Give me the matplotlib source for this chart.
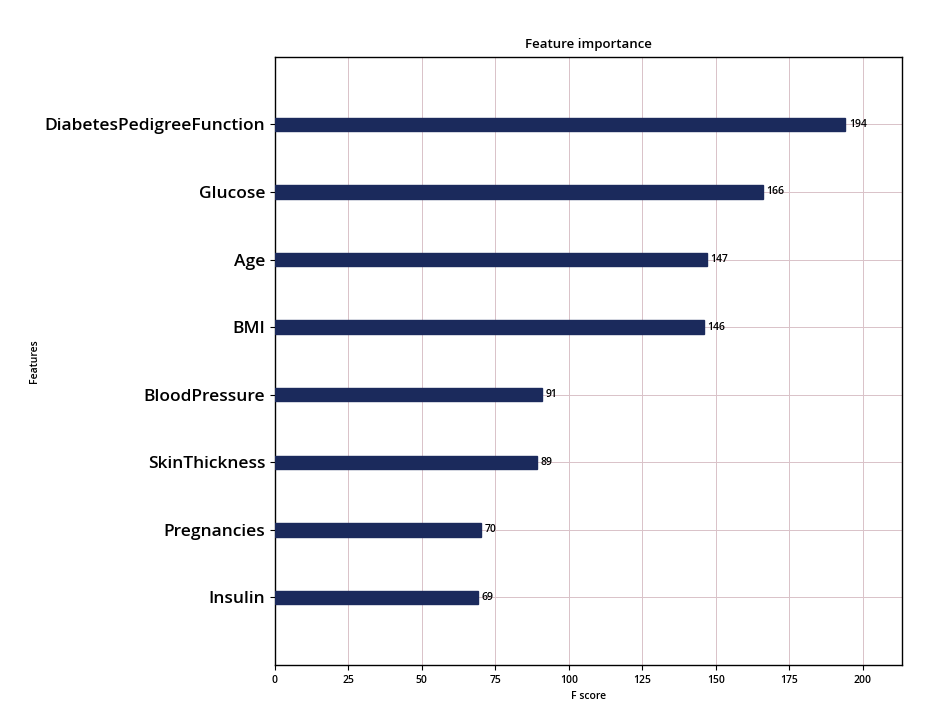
import matplotlib
matplotlib.use("Agg")
import matplotlib.pyplot as plt

features = ["Insulin", "Pregnancies", "SkinThickness", "BloodPressure",
            "BMI", "Age", "Glucose", "DiabetesPedigreeFunction"]
scores = [69, 70, 89, 91, 146, 147, 166, 194]
xticks = [0, 25, 50, 75, 100, 125, 150, 175, 200]

plt.rcParams['font.family'] = ['Open Sans', 'DejaVu Sans']
plt.rcParams['font.weight'] = 'semibold'

fig = plt.figure(figsize=(9.35, 7.13), dpi=100)
ax = fig.add_axes([0.294, 0.0673, 0.671, 0.853])

ypos = list(range(len(features)))
ax.barh(ypos, scores, height=0.2, color='#1b2a5c', edgecolor='#1b2a5c', zorder=3)
for y, v in zip(ypos, scores):
    ax.text(v + 1.2, y, str(v), va='center', ha='left', fontsize=7.5,
            fontweight='semibold', zorder=4)

ax.set_yticks(ypos)
ax.set_yticklabels(features, fontsize=12.5, fontweight='semibold')
ax.set_xticks(xticks)
ax.tick_params(axis='x', labelsize=7.5)
ax.set_ylim(-1, len(features))
ax.set_xlim(0, max(scores) * 1.1)

ax.grid(True, color='#d9c2c8', linewidth=0.7, zorder=0)
ax.set_axisbelow(True)
ax.set_title("Feature importance", fontsize=9.5, fontweight='semibold')
ax.set_xlabel("F score", fontsize=7.5, fontweight='semibold')
ax.set_ylabel("Features", fontsize=7.5, fontweight='semibold')
ax.yaxis.set_label_coords(-0.375, 0.5)
for s in ax.spines.values():
    s.set_linewidth(1.0)

fig.savefig("out.png", dpi=100)
